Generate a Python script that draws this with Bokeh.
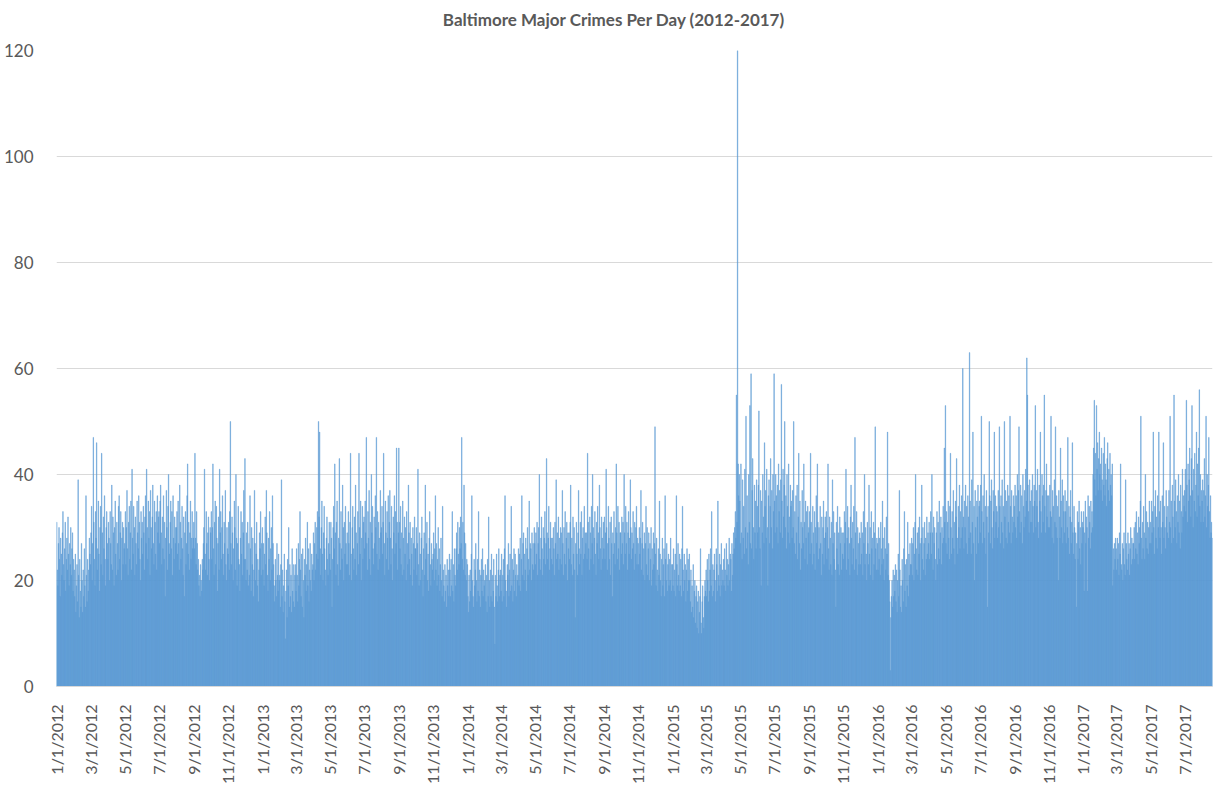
import datetime as dt
from math import pi
from bokeh.plotting import figure
from bokeh.layouts import column
from bokeh.models import ColumnDataSource, FixedTicker, Range1d, Div
from bokeh.embed import file_html
from bokeh.resources import INLINE

title_text = "Baltimore Major Crimes Per Day (2012-2017)"
start_date = "1/1/2012"

# daily major crimes, one row per month
crimes_2012 = [
    31, 22, 19, 27, 30, 24, 17, 28, 25, 21, 29, 33, 23, 20, 26, 31, 18, 24, 28, 22, 32, 25, 19, 27, 23, 30, 21, 26, 29, 18, 24,
    22, 17, 25, 14, 19, 23, 16, 39, 21, 13, 24, 18, 15, 27, 20, 14, 22, 17, 26, 19, 15, 36, 21, 16, 24, 18, 22, 28, 25,
    23, 29, 34, 20, 27, 47, 31, 24, 19, 33, 28, 46, 22, 26, 35, 25, 18, 30, 34, 23, 44, 29, 21, 32, 26, 36, 24, 19, 30, 33, 27,
    24, 31, 28, 20, 33, 27, 23, 38, 22, 32, 29, 19, 30, 35, 25, 21, 31, 27, 22, 34, 36, 24, 29, 33, 20, 28, 31, 23, 30, 26,
    27, 33, 23, 30, 37, 26, 21, 31, 34, 24, 29, 35, 22, 41, 28, 25, 34, 30, 21, 32, 27, 23, 35, 29, 26, 36, 31, 24, 20, 33, 28,
    31, 25, 34, 29, 22, 32, 36, 27, 41, 30, 24, 35, 28, 33, 21, 37, 30, 26, 32, 38, 27, 23, 35, 31, 25, 33, 22, 36, 29, 32,
    33, 27, 35, 38, 29, 23, 32, 26, 36, 24, 31, 17, 28, 37, 30, 22, 34, 40, 27, 25, 31, 35, 26, 33, 21, 36, 28, 24, 32, 27, 30,
    30, 33, 25, 35, 27, 22, 38, 31, 24, 28, 34, 26, 21, 32, 17, 29, 33, 23, 27, 36, 42, 25, 31, 22, 29, 35, 24, 28, 33, 26, 28,
    31, 26, 44, 28, 23, 33, 27, 22, 24, 19, 21, 17, 23, 20, 18, 24, 22, 27, 30, 41, 25, 22, 33, 27, 21, 29, 32, 24, 20, 30,
    29, 33, 24, 30, 42, 26, 21, 31, 35, 23, 34, 28, 18, 27, 32, 22, 41, 29, 33, 24, 30, 36, 25, 21, 31, 27, 37, 23, 20, 30, 26,
    25, 31, 22, 33, 50, 27, 23, 32, 29, 20, 26, 35, 30, 22, 40, 28, 19, 27, 34, 24, 23, 18, 28, 33, 25, 31, 21, 29, 37, 24,
    43, 24, 20, 29, 22, 31, 19, 27, 21, 36, 26, 18, 30, 23, 28, 17, 22, 37, 27, 20, 25, 31, 19, 24, 16, 22, 29, 26, 33, 21, 27,
]
crimes_2013 = [
    30, 22, 27, 19, 25, 32, 23, 37, 29, 21, 18, 28, 24, 33, 20, 26, 30, 22, 36, 27, 23, 19, 16, 24, 20, 17, 27, 21, 18, 25, 20,
    21, 15, 23, 39, 17, 22, 14, 19, 25, 16, 9, 18, 22, 13, 24, 19, 30, 15, 23, 17, 21, 14, 26, 18, 16, 23, 15, 21,
    23, 18, 26, 21, 16, 27, 19, 24, 33, 22, 17, 25, 15, 26, 20, 13, 24, 21, 28, 18, 23, 31, 19, 26, 16, 22, 27, 20, 18, 25, 22,
    23, 29, 20, 27, 31, 22, 25, 30, 33, 24, 50, 32, 48, 26, 21, 30, 35, 25, 20, 29, 34, 26, 22, 19, 28, 32, 24, 21, 27, 31,
    25, 22, 31, 28, 15, 24, 30, 34, 26, 42, 29, 21, 31, 35, 23, 19, 28, 43, 27, 22, 33, 26, 24, 38, 30, 20, 31, 25, 34, 27, 23,
    29, 23, 33, 27, 21, 31, 44, 25, 20, 30, 34, 26, 22, 32, 24, 38, 29, 21, 27, 33, 23, 44, 30, 25, 35, 20, 28, 34, 24, 31,
    32, 26, 35, 29, 47, 27, 22, 33, 28, 37, 24, 31, 21, 40, 29, 34, 26, 23, 32, 27, 36, 30, 47, 25, 33, 22, 31, 28, 24, 37, 29,
    30, 34, 25, 31, 44, 27, 21, 35, 29, 24, 33, 28, 36, 22, 31, 37, 28, 23, 34, 26, 20, 32, 29, 36, 25, 33, 27, 45, 31, 22, 29,
    45, 31, 26, 34, 23, 29, 21, 35, 28, 22, 32, 25, 30, 20, 33, 27, 23, 38, 29, 24, 31, 21, 28, 25, 19, 30, 27, 22, 32, 26,
    26, 30, 21, 27, 41, 23, 19, 29, 25, 20, 28, 32, 22, 17, 26, 29, 21, 38, 24, 27, 31, 20, 25, 18, 28, 33, 23, 19, 27, 24, 22,
    25, 29, 20, 26, 36, 22, 27, 19, 24, 30, 21, 26, 18, 23, 28, 20, 17, 34, 22, 19, 16, 23, 18, 21, 15, 24, 19, 22, 17, 25,
    22, 17, 24, 19, 33, 18, 23, 16, 26, 21, 19, 26, 29, 22, 31, 25, 23, 30, 26, 32, 27, 47, 24, 31, 22, 38, 29, 21, 27, 20, 24,
]
crimes_2014 = [
    23, 17, 14, 21, 16, 22, 18, 25, 36, 20, 17, 15, 24, 19, 22, 27, 20, 16, 24, 18, 33, 17, 22, 15, 21, 24, 18, 26, 17, 22, 19,
    20, 23, 16, 21, 14, 24, 17, 32, 20, 15, 22, 17, 25, 16, 21, 18, 24, 15, 8, 21, 17, 25, 19, 16, 22, 26, 17, 21,
    22, 18, 25, 16, 21, 24, 17, 26, 36, 20, 18, 15, 23, 21, 27, 17, 22, 25, 18, 34, 19, 24, 16, 22, 26, 18, 25, 21, 17, 23, 20,
    21, 26, 19, 25, 28, 18, 24, 36, 21, 27, 29, 20, 25, 22, 28, 18, 26, 30, 21, 24, 35, 22, 27, 26, 20, 29, 23, 27, 22, 30,
    27, 23, 29, 25, 31, 21, 27, 30, 40, 24, 22, 28, 32, 26, 21, 30, 24, 28, 33, 23, 27, 43, 29, 24, 28, 34, 22, 26, 31, 28, 24,
    28, 23, 30, 26, 21, 31, 27, 39, 24, 29, 25, 32, 22, 28, 24, 30, 29, 23, 37, 27, 21, 30, 25, 33, 23, 28, 31, 20, 29, 26,
    29, 24, 31, 38, 23, 28, 21, 32, 25, 30, 22, 13, 27, 31, 25, 21, 29, 37, 26, 23, 31, 25, 33, 21, 28, 30, 24, 34, 25, 29, 27,
    29, 24, 44, 31, 26, 22, 32, 29, 24, 34, 27, 40, 30, 23, 28, 33, 25, 21, 31, 27, 34, 29, 24, 38, 30, 26, 22, 32, 28, 24, 31,
    26, 32, 24, 29, 41, 30, 22, 27, 34, 28, 24, 31, 21, 32, 27, 17, 29, 25, 33, 27, 23, 30, 42, 29, 24, 34, 26, 31, 22, 29,
    29, 25, 32, 27, 31, 23, 40, 29, 25, 34, 27, 31, 22, 29, 33, 25, 28, 39, 30, 24, 29, 26, 33, 27, 22, 31, 25, 30, 34, 23, 28,
    27, 23, 30, 25, 28, 37, 22, 27, 31, 21, 26, 29, 20, 27, 34, 23, 30, 21, 26, 29, 20, 27, 24, 30, 19, 26, 22, 29, 23, 27,
    49, 25, 19, 28, 22, 18, 26, 21, 35, 25, 20, 17, 24, 28, 19, 23, 26, 17, 36, 24, 20, 27, 18, 23, 25, 19, 24, 20, 28, 18, 23,
]
crimes_2015 = [
    23, 19, 26, 18, 22, 25, 17, 36, 23, 19, 27, 21, 18, 25, 19, 24, 17, 26, 34, 22, 18, 25, 20, 23, 16, 22, 26, 18, 24, 20, 25,
    20, 16, 22, 14, 19, 15, 23, 13, 18, 20, 12, 17, 19, 11, 16, 18, 10, 14, 17, 26, 12, 10, 16, 19, 13, 11, 17, 20,
    18, 22, 17, 24, 20, 16, 25, 18, 22, 26, 19, 33, 17, 23, 18, 22, 25, 20, 16, 26, 23, 18, 35, 21, 19, 25, 17, 23, 27, 19, 22,
    20, 24, 19, 26, 22, 18, 27, 21, 24, 19, 23, 28, 20, 25, 24, 18, 27, 21, 25, 29, 26, 30, 33, 28, 55, 31, 120, 42, 36, 40,
    35, 27, 42, 29, 24, 39, 28, 34, 25, 41, 30, 51, 26, 36, 29, 23, 40, 31, 53, 27, 59, 26, 37, 43, 30, 24, 38, 29, 35, 26, 39,
    34, 29, 38, 52, 30, 26, 37, 19, 35, 29, 40, 32, 27, 46, 34, 37, 28, 41, 30, 19, 36, 39, 27, 34, 43, 30, 37, 26, 40, 33,
    59, 35, 29, 40, 36, 30, 38, 27, 42, 33, 37, 29, 39, 57, 35, 28, 41, 32, 38, 50, 30, 36, 26, 40, 34, 29, 42, 32, 27, 38, 34,
    35, 28, 37, 30, 50, 27, 33, 25, 36, 29, 38, 24, 32, 44, 27, 35, 22, 31, 26, 37, 30, 27, 42, 31, 24, 35, 28, 33, 23, 34, 29,
    30, 33, 25, 44, 31, 27, 23, 34, 29, 25, 33, 22, 30, 36, 27, 42, 31, 24, 30, 26, 34, 27, 21, 32, 25, 30, 35, 23, 28, 32,
    29, 33, 24, 30, 42, 26, 22, 32, 28, 23, 31, 21, 39, 27, 33, 24, 29, 22, 15, 31, 26, 34, 23, 29, 21, 32, 27, 30, 22, 29, 25,
    29, 24, 33, 27, 31, 41, 22, 28, 34, 24, 30, 27, 21, 32, 38, 28, 23, 31, 26, 34, 22, 47, 29, 24, 33, 21, 30, 27, 23, 29,
    28, 23, 31, 25, 29, 21, 33, 27, 40, 23, 30, 25, 20, 31, 27, 23, 38, 25, 30, 21, 33, 26, 28, 20, 31, 23, 29, 49, 26, 22, 28,
]
crimes_2016 = [
    27, 22, 30, 24, 28, 21, 31, 26, 23, 35, 28, 24, 20, 30, 26, 22, 32, 25, 48, 21, 27, 20, 16, 3, 13, 17, 20, 15, 22, 17, 21,
    18, 23, 16, 22, 14, 20, 25, 17, 37, 22, 15, 19, 14, 24, 20, 16, 26, 33, 18, 23, 15, 24, 19, 31, 17, 25, 21, 27, 23,
    23, 28, 21, 27, 30, 20, 25, 31, 40, 26, 22, 29, 21, 30, 25, 32, 27, 20, 28, 38, 24, 30, 22, 27, 31, 21, 28, 24, 32, 25, 29,
    27, 31, 24, 29, 33, 25, 40, 29, 22, 32, 27, 30, 24, 20, 29, 33, 23, 31, 26, 35, 24, 29, 32, 23, 30, 27, 34, 28, 45, 31,
    53, 27, 33, 25, 31, 35, 28, 24, 34, 44, 30, 25, 33, 28, 37, 26, 31, 23, 35, 32, 43, 28, 25, 34, 30, 38, 26, 33, 28, 36, 30,
    60, 32, 26, 35, 30, 38, 27, 34, 25, 36, 32, 28, 63, 35, 29, 25, 39, 31, 48, 27, 34, 20, 37, 30, 25, 35, 32, 38, 27, 34,
    35, 29, 38, 51, 33, 27, 36, 31, 40, 28, 34, 25, 37, 32, 15, 34, 29, 50, 36, 27, 35, 39, 30, 26, 37, 33, 48, 28, 36, 31, 34,
    33, 28, 37, 30, 49, 34, 27, 36, 31, 39, 29, 34, 26, 50, 32, 37, 28, 35, 27, 38, 31, 36, 29, 51, 34, 27, 37, 32, 29, 36, 31,
    34, 38, 30, 36, 28, 40, 32, 37, 49, 33, 29, 38, 31, 36, 27, 40, 34, 30, 37, 32, 41, 35, 62, 55, 38, 33, 29, 39, 35, 31,
    37, 31, 40, 34, 29, 38, 35, 53, 30, 37, 34, 41, 31, 28, 38, 35, 48, 33, 29, 40, 36, 31, 38, 55, 34, 29, 37, 42, 32, 36, 30,
    36, 30, 38, 33, 51, 32, 28, 37, 34, 27, 39, 31, 49, 30, 36, 28, 34, 20, 37, 32, 28, 45, 35, 30, 39, 27, 36, 33, 29, 37,
    33, 27, 35, 30, 47, 28, 34, 25, 32, 37, 27, 31, 46, 29, 25, 34, 30, 24, 29, 15, 27, 33, 24, 31, 35, 26, 30, 23, 33, 27, 31,
]
crimes_2017 = [
    30, 33, 18, 29, 35, 27, 32, 30, 18, 36, 28, 34, 31, 26, 35, 29, 33, 30, 40, 45, 54, 39, 44, 36, 53, 41, 46, 37, 43, 48, 40,
    42, 37, 45, 39, 35, 44, 38, 47, 36, 42, 39, 34, 43, 46, 37, 41, 35, 44, 38, 40, 36, 42, 19, 26, 22, 27, 24, 28,
    26, 22, 28, 24, 27, 21, 29, 25, 42, 23, 22, 27, 20, 26, 29, 23, 21, 39, 27, 24, 22, 29, 25, 27, 21, 26, 30, 23, 28, 24, 27,
    27, 30, 24, 31, 26, 33, 25, 29, 23, 32, 27, 30, 35, 51, 28, 24, 31, 26, 34, 29, 24, 40, 28, 33, 26, 31, 25, 30, 35, 27,
    31, 27, 35, 29, 33, 48, 30, 25, 34, 37, 28, 32, 26, 36, 30, 48, 33, 28, 35, 30, 25, 36, 31, 46, 28, 34, 30, 26, 37, 32, 29,
    34, 28, 37, 31, 51, 30, 35, 27, 38, 32, 28, 55, 35, 30, 39, 33, 27, 36, 31, 40, 29, 35, 26, 38, 33, 29, 41, 32, 36, 34,
    37, 41, 33, 54, 38, 31, 42, 35, 39, 45, 36, 32, 43, 53, 37, 30, 41, 35, 44, 33, 38, 48, 32, 42, 36, 45, 56, 34, 40, 31, 37,
    35, 39, 31, 37, 43, 32, 36, 51, 30, 40, 34, 38, 47, 33, 28, 36, 29, 31, 28,
]

tick_labels = [
    "1/1/2012", "3/1/2012", "5/1/2012", "7/1/2012", "9/1/2012", "11/1/2012",
    "1/1/2013", "3/1/2013", "5/1/2013", "7/1/2013", "9/1/2013", "11/1/2013",
    "1/1/2014", "3/1/2014", "5/1/2014", "7/1/2014", "9/1/2014", "11/1/2014",
    "1/1/2015", "3/1/2015", "5/1/2015", "7/1/2015", "9/1/2015", "11/1/2015",
    "1/1/2016", "3/1/2016", "5/1/2016", "7/1/2016", "9/1/2016", "11/1/2016",
    "1/1/2017", "3/1/2017", "5/1/2017", "7/1/2017",
]
y_ticks = [0, 20, 40, 60, 80, 100, 120]

values = crimes_2012 + crimes_2013 + crimes_2014 + crimes_2015 + crimes_2016 + crimes_2017
n = len(values)
start = dt.datetime.strptime(start_date, "%m/%d/%Y").date()


def day_index(label):
    return (dt.datetime.strptime(label, "%m/%d/%Y").date() - start).days


source = ColumnDataSource(dict(x=[i + 0.5 for i in range(n)], y=values))

TEXT = "#595959"
GRID = "#D9D9D9"
BAR = "#5B9BD5"
FONT = "Lato"

title = Div(text=title_text, width=1218, height=40, margin=0,
            styles={"text-align": "center", "font-family": FONT, "font-weight": "bold",
                    "font-size": "17px", "color": TEXT, "line-height": "40px",
                    "padding-left": "9px", "box-sizing": "border-box",
                    "background-color": "white"})

p = figure(width=1218, height=749, output_backend="svg", toolbar_location=None,
           x_range=Range1d(0, n), y_range=Range1d(0, 120),
           min_border_left=55, min_border_right=6, min_border_top=10, min_border_bottom=103)

p.vbar(x="x", top="y", width=1.0, bottom=0, source=source,
       fill_color=BAR, line_color=BAR, line_width=0.4)

p.outline_line_color = None
p.background_fill_color = "white"
p.border_fill_color = "white"

p.xgrid.grid_line_color = None
p.ygrid.grid_line_color = GRID
p.ygrid.grid_line_width = 1
p.ygrid.ticker = FixedTicker(ticks=y_ticks)

p.yaxis.ticker = FixedTicker(ticks=y_ticks)
p.yaxis.axis_line_color = None
p.yaxis.major_tick_line_color = None
p.yaxis.minor_tick_line_color = None
p.yaxis.major_label_text_font = FONT
p.yaxis.major_label_text_font_size = "17px"
p.yaxis.major_label_text_color = TEXT
p.yaxis.major_label_standoff = 17

tick_pos = [day_index(t) for t in tick_labels]
p.xaxis.ticker = FixedTicker(ticks=tick_pos)
p.xaxis.major_label_overrides = {pos: lab for pos, lab in zip(tick_pos, tick_labels)}
p.xaxis.major_label_orientation = pi / 2
p.xaxis.axis_line_color = GRID
p.xaxis.major_tick_line_color = None
p.xaxis.minor_tick_line_color = None
p.xaxis.major_label_text_font = FONT
p.xaxis.major_label_text_font_size = "16px"
p.xaxis.major_label_text_color = TEXT
p.xaxis.major_label_standoff = 12

page = column(title, p, spacing=0)
open("out.html", "w").write(file_html(page, INLINE))
